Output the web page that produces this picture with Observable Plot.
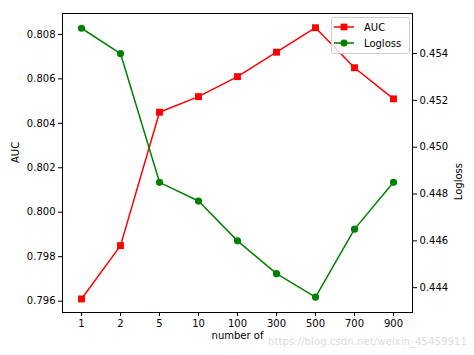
<!DOCTYPE html>
<html>
<head>
<meta charset="utf-8">
<script src="https://cdn.jsdelivr.net/npm/d3@7"></script>
<script src="https://cdn.jsdelivr.net/npm/@observablehq/plot@0.6"></script>
<style>
  html, body { margin: 0; padding: 0; background: #fff; }
</style>
</head>
<body>
<div id="chart"></div>
<script>
const categories = ["1", "2", "5", "10", "100", "300", "500", "700", "900"];
const aucValues = [0.7961, 0.7985, 0.8045, 0.8052, 0.8061, 0.8072, 0.8083, 0.8065, 0.8051];
const loglossValues = [0.45508, 0.4540, 0.4485, 0.4477, 0.4460, 0.4446, 0.4436, 0.4465, 0.4485];
const aucTicks = [0.796, 0.798, 0.800, 0.802, 0.804, 0.806, 0.808];
const loglossTicks = [0.444, 0.446, 0.448, 0.450, 0.452, 0.454];

const aucDomain = [0.79549, 0.80894];
const loglossDomain = [0.44294, 0.45571];
const toY = d3.scaleLinear(loglossDomain, aucDomain);

const data = categories.map((c, i) => ({ x: c, auc: aucValues[i], logloss: toY(loglossValues[i]) }));

const chart = Plot.plot({
  width: 474,
  height: 355,
  marginLeft: 62,
  marginRight: 62,
  marginTop: 13,
  marginBottom: 43,
  style: { fontFamily: "DejaVu Sans", fontSize: "10px", color: "#000", background: "#fff" },
  x: { type: "point", domain: categories, padding: 0.4 },
  y: { domain: aucDomain },
  marks: [
    Plot.axisX({ tickSize: 4, tickPadding: 3, label: null, fontSize: 10 }),
    Plot.axisY(aucTicks, { anchor: "left", tickSize: 4, tickPadding: 3, tickFormat: d => d.toFixed(3), label: null, fontSize: 10 }),
    Plot.axisY(loglossTicks.map(toY), { anchor: "right", tickSize: 4, tickPadding: 3, tickFormat: d => toY.invert(d).toFixed(3), label: null, fontSize: 10 }),
    Plot.text(["AUC"], { frameAnchor: "left", dx: -47, rotate: -90, fontSize: 10, fill: "#000" }),
    Plot.text(["Logloss"], { frameAnchor: "right", dx: 46, rotate: -90, fontSize: 10, fill: "#000" }),
    Plot.text(["number of"], { frameAnchor: "bottom", dy: 26, fontSize: 10, fill: "#000" }),
    Plot.line(data, { x: "x", y: "auc", stroke: "red", strokeWidth: 1.5 }),
    Plot.dot(data, { x: "x", y: "auc", symbol: "square", fill: "red", r: 3.9 }),
    Plot.line(data, { x: "x", y: "logloss", stroke: "green", strokeWidth: 1.5 }),
    Plot.dot(data, { x: "x", y: "logloss", symbol: "circle", fill: "green", r: 3.6 }),
    Plot.frame({ stroke: "#000", strokeWidth: 1 })
  ]
});

// Legend and watermark
const svg = d3.select(chart);
const lg = svg.append("g").attr("font-family", "DejaVu Sans").attr("font-size", 10).attr("text-anchor", "start");
lg.append("rect").attr("x", 331.5).attr("y", 17.5).attr("width", 78).attr("height", 36)
  .attr("rx", 2).attr("fill", "#fff").attr("fill-opacity", 0.8).attr("stroke", "#ccc");
const items = [
  { label: "AUC", color: "red", sym: d3.symbolSquare, size: 46, y: 27 },
  { label: "Logloss", color: "green", sym: d3.symbolCircle, size: 40, y: 43 }
];
for (const it of items) {
  lg.append("line").attr("x1", 334).attr("x2", 354).attr("y1", it.y).attr("y2", it.y)
    .attr("stroke", it.color).attr("stroke-width", 1.5);
  lg.append("path").attr("d", d3.symbol(it.sym, it.size)()).attr("transform", `translate(344,${it.y})`).attr("fill", it.color);
  lg.append("text").attr("x", 364).attr("y", it.y).attr("dy", "0.35em").attr("fill", "#000").text(it.label);
}
svg.append("text").attr("x", 268).attr("y", 345).attr("text-anchor", "start").attr("font-family", "DejaVu Sans").attr("font-size", 10.5)
  .attr("textLength", 199).attr("lengthAdjust", "spacingAndGlyphs")
  .attr("fill", "#dcdcdc").text("https://blog.csdn.net/weixin_45459911");

document.getElementById("chart").appendChild(chart);
</script>
</body>
</html>
